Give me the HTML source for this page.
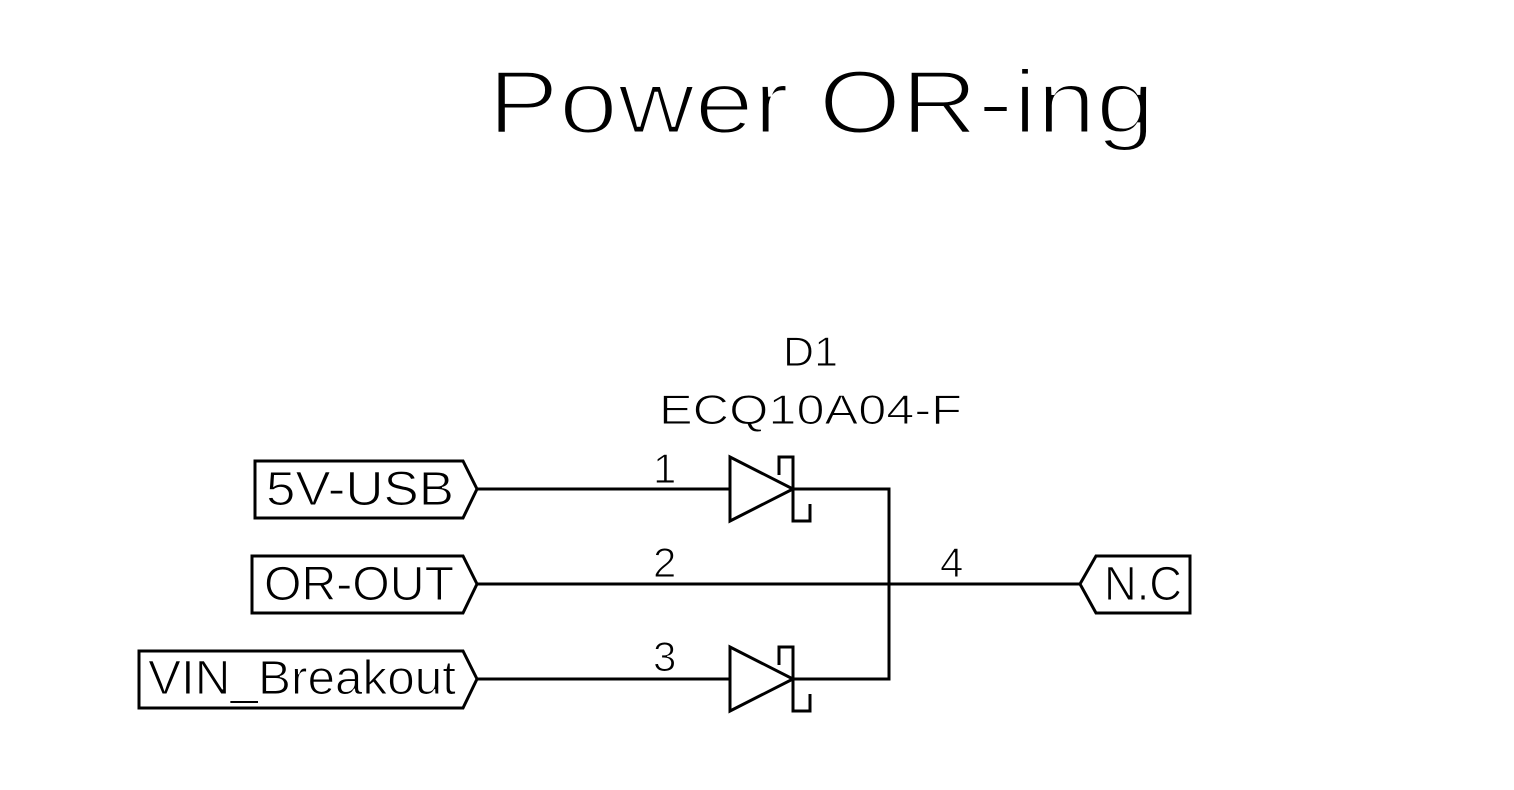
<!DOCTYPE html>
<html><head><style>html,body{margin:0;padding:0;background:#fff}svg{display:block}</style></head>
<body>
<svg width="1514" height="790" viewBox="0 0 1514 790" xmlns="http://www.w3.org/2000/svg">
<g fill="none" stroke="#000" stroke-width="3" stroke-linejoin="miter">
<polygon points="255,461 463,461 477,489 463,518 255,518"/>
<polygon points="252,556 463,556 477,584 463,613 252,613"/>
<polygon points="139,651 463,651 477,679 463,708 139,708"/>
<polygon points="1080,584 1096,556 1190,556 1190,613 1096,613"/>
<line x1="477" y1="489" x2="730" y2="489"/>
<line x1="477" y1="584" x2="1080" y2="584"/>
<line x1="477" y1="679" x2="730" y2="679"/>
<polygon points="730,457 793,489 730,521"/>
<polyline points="779,475 779,457 793,457 793,521 810,521 810,504"/>
<polygon points="730,647 793,679 730,711"/>
<polyline points="779,665 779,647 793,647 793,711 810,711 810,694"/>
<polyline points="793,489 889,489 889,679 793,679"/>
</g>
<g font-family="Liberation Sans, DejaVu Sans, sans-serif" fill="#000" stroke="#fff">
<text x="488" y="133" font-size="90" textLength="667" lengthAdjust="spacingAndGlyphs" stroke-width="3">Power OR-ing</text>
<g stroke-width="1.1">
<text x="783" y="366" font-size="42" textLength="55" lengthAdjust="spacingAndGlyphs">D1</text>
<text x="659" y="424" font-size="42" textLength="303" lengthAdjust="spacingAndGlyphs">ECQ10A04-F</text>
<text x="653" y="483" font-size="42">1</text>
<text x="653" y="577" font-size="42">2</text>
<text x="653" y="671" font-size="42">3</text>
<text x="940" y="577" font-size="42">4</text>
<text x="266" y="505" font-size="48" textLength="188" lengthAdjust="spacingAndGlyphs">5V-USB</text>
<text x="264" y="600" font-size="48" textLength="190" lengthAdjust="spacingAndGlyphs">OR-OUT</text>
<text x="148" y="694" font-size="48" textLength="308" lengthAdjust="spacingAndGlyphs">VIN_Breakout</text>
<text x="1104" y="600" font-size="48" textLength="78" lengthAdjust="spacingAndGlyphs">N.C</text>
</g>
</g>
</svg>
</body></html>
